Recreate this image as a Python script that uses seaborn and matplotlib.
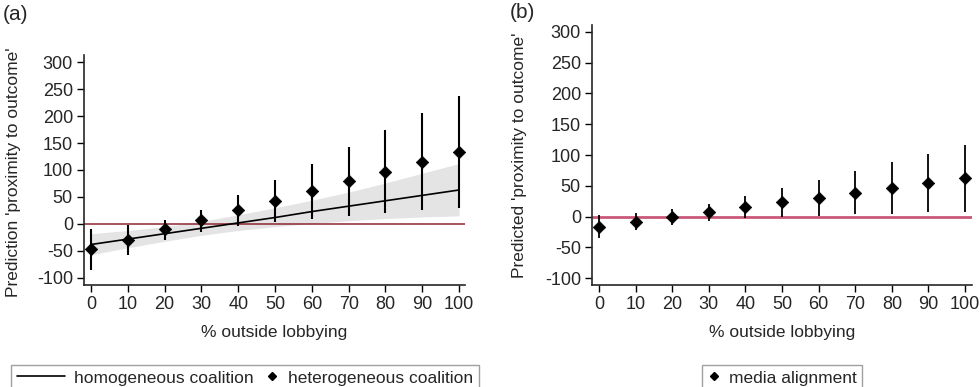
import numpy as np
import pandas as pd
import matplotlib
matplotlib.use("Agg")
import matplotlib.pyplot as plt
import seaborn as sns
from matplotlib.lines import Line2D
from matplotlib.legend_handler import HandlerLine2D

# values
pct = [0, 10, 20, 30, 40, 50, 60, 70, 80, 90, 100]

# panel (a): heterogeneous coalition predictions with 95% CI
het_est = [-47, -29, -10, 7, 25, 43, 61, 79, 97, 115, 133]
het_lo = [-85, -57, -30, -14, -4, 4, 10, 15, 20, 25, 30]
het_hi = [-9, -1, 8, 26, 53, 82, 111, 143, 174, 205, 237]

# panel (a): homogeneous coalition fitted line and band
hom_fit = [-38, -28, -18, -8, 2, 12, 23, 33, 43, 53, 63]
hom_lo = [-57, -44, -32, -21, -12, -5, 1, 6, 10, 13, 15]
hom_hi = [-18, -12, -5, 5, 17, 30, 44, 59, 76, 94, 112]

# panel (b): media alignment
med_est = [-17, -8, -1, 8, 15, 23, 31, 39, 46, 54, 62]
med_lo = [-35, -22, -13, -7, -3, -1, 1, 4, 5, 7, 8]
med_hi = [2, 6, 12, 21, 33, 47, 60, 74, 88, 102, 116]

df_a = pd.DataFrame({"pct": pct, "est": het_est, "lo": het_lo, "hi": het_hi,
                     "fit": hom_fit, "flo": hom_lo, "fhi": hom_hi})
df_b = pd.DataFrame({"pct": pct, "est": med_est, "lo": med_lo, "hi": med_hi})


# legend handler that puts the marker close to the label
class TightMarker(HandlerLine2D):
    def get_xdata(self, legend, xdescent, ydescent, width, height, fontsize):
        m = -xdescent + width - 0.45 * fontsize
        return [m - 0.5, m + 0.5], [m]


sns.set_style("ticks")
plt.rcParams["font.family"] = ["Liberation Sans", "DejaVu Sans"]
plt.rcParams["axes.unicode_minus"] = False

fig = plt.figure(figsize=(9.8, 3.87), dpi=100)
ax1 = fig.add_axes([84 / 980, 102 / 387, 381 / 980, 230 / 387])
ax2 = fig.add_axes([592 / 980, 102 / 387, 380 / 980, 260 / 387])

# panel (a)
ax1.fill_between(df_a["pct"], df_a["flo"], df_a["fhi"], color="#e4e4e4", lw=0, zorder=1)
ax1.axhline(0, color="#8e2430", lw=1.1, zorder=2)
sns.lineplot(data=df_a, x="pct", y="fit", color="black", lw=1.2, ax=ax1, zorder=3)
ax1.vlines(df_a["pct"], df_a["lo"], df_a["hi"], color="black", lw=1.5, zorder=4)
sns.scatterplot(data=df_a, x="pct", y="est", marker="D", s=40, color="black",
                edgecolor="black", ax=ax1, zorder=5)
ax1.set_ylim(-113, 313)
ax1.set_xlim(-1.9, 101.6)
ax1.set_ylabel("Prediction 'proximity to outcome'", fontsize=12.5)
ax1.yaxis.set_label_coords(-0.165, 0.49)

# panel (b)
ax2.axhline(0, color="#c9587a", lw=2, zorder=2)
ax2.vlines(df_b["pct"], df_b["lo"], df_b["hi"], color="black", lw=1.3, zorder=4)
sns.scatterplot(data=df_b, x="pct", y="est", marker="D", s=40, color="black",
                edgecolor="black", ax=ax2, zorder=5)
ax2.set_ylim(-111, 311)
ax2.set_xlim(-1.9, 101.9)
ax2.set_ylabel("Predicted 'proximity to outcome'", fontsize=12.5)
ax2.yaxis.set_label_coords(-0.171, 0.5)

for ax, ly in [(ax1, -0.175), (ax2, -0.155)]:
    ax.set_xticks(pct)
    ax.set_yticks(range(-100, 301, 50))
    ax.tick_params(labelsize=13, length=5, width=1, pad=3, color="black")
    ax.set_xlabel("% outside lobbying", fontsize=12.5)
    ax.xaxis.set_label_coords(0.5, ly)
    sns.despine(ax=ax)
    for s in ["left", "bottom"]:
        ax.spines[s].set_linewidth(1.2)

fig.text(0.003, 1 - 14 / 387, "(a)", fontsize=15, va="center")
fig.text(0.520, 1 - 13 / 387, "(b)", fontsize=15, va="center")

h_line = Line2D([], [], color="black", lw=1.2)
h_dia = Line2D([], [], color="black", marker="D", ms=4, ls="none")
leg1 = fig.legend([h_line, h_dia], ["homogeneous coalition", "heterogeneous coalition"],
                  loc="center", bbox_to_anchor=(245 / 980, 1 - 378 / 387), ncol=2,
                  fontsize=12.5, frameon=True, fancybox=False, handlelength=2.8,
                  columnspacing=-1.3, handletextpad=0.5, borderpad=0.3,
                  handler_map={h_dia: TightMarker()})
leg1.get_frame().set_edgecolor("#888888")
leg2 = fig.legend([h_dia], ["media alignment"], loc="center",
                  bbox_to_anchor=(782 / 980, 1 - 378 / 387), fontsize=12.5,
                  frameon=True, fancybox=False, handlelength=0.8,
                  handletextpad=0.5, borderpad=0.3)
leg2.get_frame().set_edgecolor("#888888")

fig.savefig("out.png", dpi=100)
